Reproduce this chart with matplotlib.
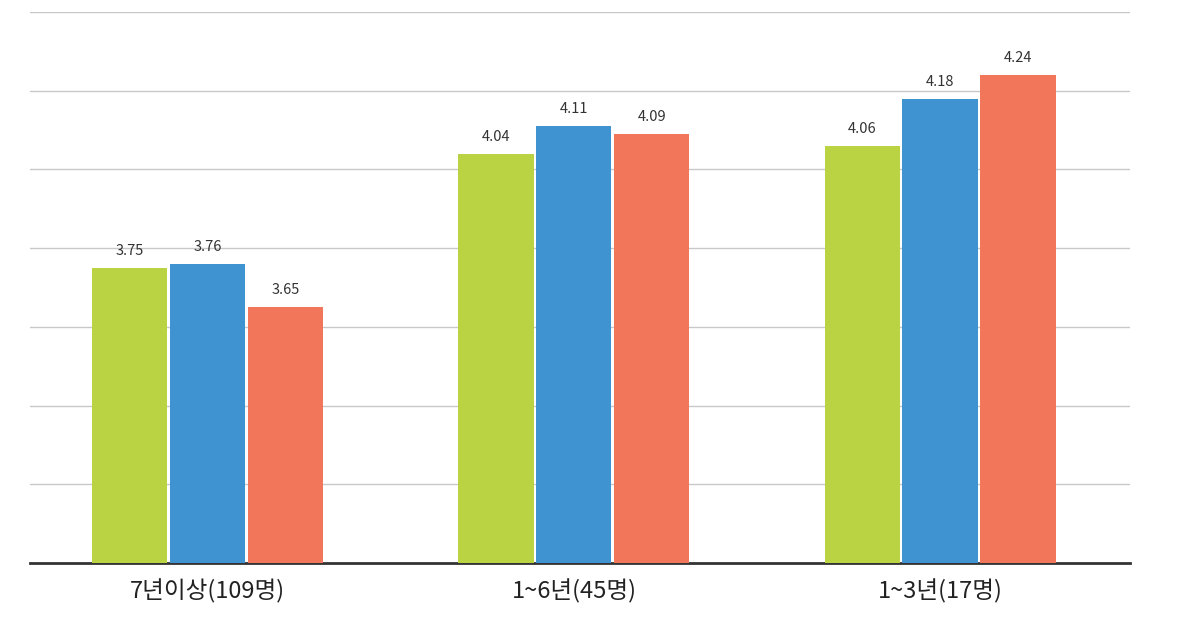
import matplotlib
matplotlib.use('Agg')
import matplotlib.pyplot as plt
import numpy as np

plt.rcParams['font.family'] = ['Noto Sans CJK KR', 'DejaVu Sans']

categories = ['7년이상(109명)', '1~6년(45명)', '1~3년(17명)']
series_a = [3.75, 4.04, 4.06]
series_b = [3.76, 4.11, 4.18]
series_c = [3.65, 4.09, 4.24]
colors = ['#b9d343', '#3f93d0', '#f2775a']

fig = plt.figure(figsize=(12, 6.3), dpi=100, facecolor='white')
ax = fig.add_axes([30 / 1200, 1 - 563 / 630, 1100 / 1200, 551 / 630])

x = np.arange(len(categories))
width = 0.205
step = 0.213
for i, (vals, col) in enumerate(zip([series_a, series_b, series_c], colors)):
    pos = x + (i - 1) * step
    ax.bar(pos, vals, width=width, color=col, zorder=3)
    for p, v in zip(pos, vals):
        ax.text(p, v + 0.025, f'{v:.2f}', ha='center', va='bottom',
                fontsize=10.5, color='#333333', zorder=4)

ax.set_ylim(3.0, 4.4)
ax.set_xlim(-0.486, 2.519)
ax.set_yticks(np.arange(3.2, 4.41, 0.2))
ax.yaxis.grid(True, color='#c8c8c8', linewidth=1)
ax.set_axisbelow(True)
ax.tick_params(axis='y', left=False, labelleft=False)
ax.tick_params(axis='x', bottom=False, pad=8)
ax.set_xticks(x)
ax.set_xticklabels(categories, fontsize=17, color='#222222')
for s in ['top', 'right', 'left']:
    ax.spines[s].set_visible(False)
ax.spines['bottom'].set_color('#333333')
ax.spines['bottom'].set_linewidth(2)

fig.savefig('out.png', dpi=100, facecolor='white')
